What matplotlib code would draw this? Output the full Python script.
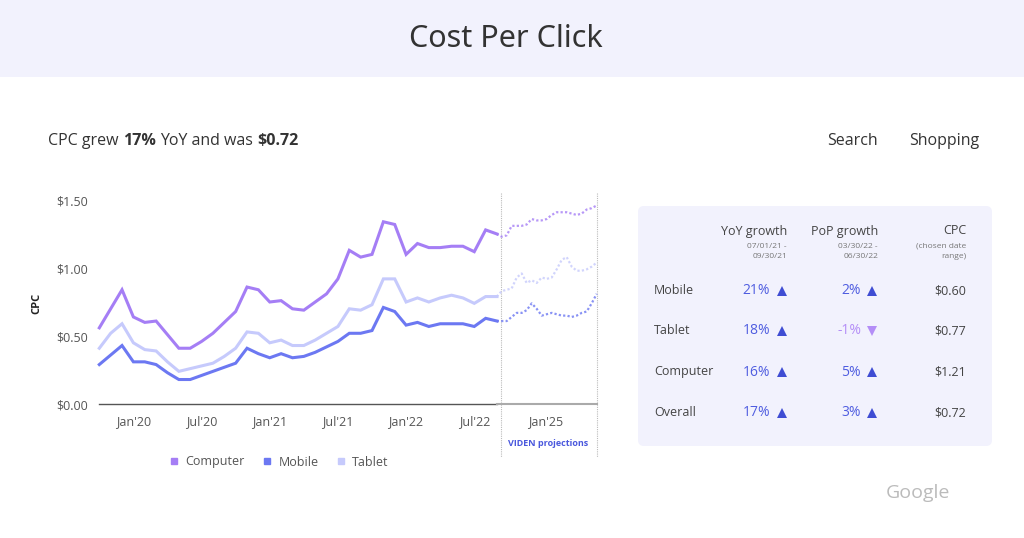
import numpy as np
import pandas as pd
import matplotlib
matplotlib.use("Agg")
import matplotlib.pyplot as plt
from matplotlib.lines import Line2D
from matplotlib.patches import Rectangle, FancyBboxPatch

plt.rcParams['font.family'] = ['Open Sans', 'DejaVu Sans']

# Monthly CPC history, Oct 2019 - Sep 2022
hist_months = pd.date_range("2019-10-01", "2022-09-01", freq="MS")
computer = [0.56, 0.70, 0.84, 0.64, 0.60, 0.61, 0.51, 0.41, 0.41, 0.46, 0.52, 0.60,
            0.68, 0.86, 0.84, 0.75, 0.76, 0.70, 0.69, 0.75, 0.81, 0.92, 1.13, 1.08,
            1.10, 1.34, 1.32, 1.10, 1.18, 1.15, 1.15, 1.16, 1.16, 1.12, 1.28, 1.25]
mobile = [0.29, 0.36, 0.43, 0.31, 0.31, 0.29, 0.23, 0.18, 0.18, 0.21, 0.24, 0.27,
          0.30, 0.41, 0.37, 0.34, 0.37, 0.34, 0.35, 0.38, 0.42, 0.46, 0.52, 0.52,
          0.54, 0.71, 0.68, 0.58, 0.60, 0.57, 0.59, 0.59, 0.59, 0.57, 0.63, 0.61]
tablet = [0.41, 0.52, 0.59, 0.45, 0.40, 0.39, 0.31, 0.24, 0.26, 0.28, 0.30, 0.35,
          0.41, 0.53, 0.52, 0.45, 0.47, 0.43, 0.43, 0.47, 0.52, 0.57, 0.70, 0.69,
          0.73, 0.92, 0.92, 0.75, 0.78, 0.75, 0.78, 0.80, 0.78, 0.74, 0.79, 0.79]

# VIDEN projections
proj_computer = [1.25, 1.23, 1.24, 1.31, 1.31, 1.31, 1.32, 1.36, 1.35, 1.35, 1.36,
                 1.39, 1.41, 1.41, 1.41, 1.40, 1.39, 1.40, 1.43, 1.44, 1.46]
proj_mobile = [0.61, 0.61, 0.61, 0.64, 0.67, 0.67, 0.69, 0.74, 0.70, 0.65, 0.66,
               0.67, 0.66, 0.65, 0.65, 0.64, 0.65, 0.67, 0.68, 0.74, 0.81]
proj_tablet = [0.79, 0.83, 0.84, 0.85, 0.93, 0.96, 0.89, 0.91, 0.89, 0.93, 0.92,
               0.93, 0.99, 1.06, 1.08, 1.01, 0.98, 0.98, 0.99, 1.01, 1.04]

tick_dates = ["2020-01", "2020-07", "2021-01", "2021-07", "2022-01", "2022-07"]
tick_labels = ["Jan'20", "Jul'20", "Jan'21", "Jul'21", "Jan'22", "Jul'22"]
proj_tick_pos = [9.7]
proj_tick_labels = ["Jan'25"]

# Summary table
row_names = ["Mobile", "Tablet", "Computer", "Overall"]
yoy_growth = [21, 18, 16, 17]
pop_growth = [2, -1, 5, 3]
cpc_values = [0.60, 0.77, 1.21, 0.72]

C_COMP = '#a57ef5'
C_MOB = '#6c78f2'
C_TAB = '#c6cafc'
BAND = '#f2f2fd'

W, H = 1024, 538
fig = plt.figure(figsize=(W / 100, H / 100), dpi=100)
fig.patch.set_facecolor('white')


def px_rect(x0, y0, x1, y1):
    return [x0 / W, 1 - y1 / H, (x1 - x0) / W, (y1 - y0) / H]


# overlay axes in pixel coordinates for the decorations
ov = fig.add_axes([0, 0, 1, 1], zorder=0)
ov.set_xlim(0, W)
ov.set_ylim(H, 0)
ov.axis('off')
ov.add_patch(Rectangle((0, 0), W, 77, color=BAND, lw=0))
ov.text(506, 39, "Cost Per Click", ha='center', va='center', fontsize=22,
        color='#333333', family=['Noto Sans', 'DejaVu Sans'], fontweight='light')

# subtitle with bold parts
renderer = fig.canvas.get_renderer()
parts = [("CPC grew", 'normal'), ("17%", 'bold'), ("YoY and was", 'normal'), ("$0.72", 'bold')]
xcur = 48
for s, wt in parts:
    t = ov.text(xcur, 141, s, ha='left', va='center', fontsize=11.5, color='#333333', fontweight=wt)
    bb = t.get_window_extent(renderer=renderer)
    xcur += bb.width + 4.5

ov.text(878, 141, "Search", ha='right', va='center', fontsize=11.5, color='#333333')
ov.text(979, 141, "Shopping", ha='right', va='center', fontsize=11.5, color='#333333')

# main chart
ax = fig.add_axes(px_rect(99.3, 200, 497, 404), zorder=2)
x = np.arange(len(hist_months))
for vals, c in [(tablet, C_TAB), (mobile, C_MOB), (computer, C_COMP)]:
    ax.plot(x, vals, color=c, lw=2.2, solid_joinstyle='miter', clip_on=False)
ax.set_xlim(0, len(hist_months) - 1)
ax.set_ylim(0, 1.5)
ax.set_yticks([0, 0.5, 1.0, 1.5])
ax.set_yticklabels(["$0.00", "$0.50", "$1.00", "$1.50"])
month_index = {d.strftime("%Y-%m"): i for i, d in enumerate(hist_months)}
ax.set_xticks([month_index[d] for d in tick_dates])
ax.set_xticklabels(tick_labels)
ax.tick_params(length=0, labelsize=9, labelcolor='#555555')
ax.tick_params(axis='y', pad=8)
ax.tick_params(axis='x', pad=8)
for s in ['top', 'right', 'left']:
    ax.spines[s].set_visible(False)
ax.spines['bottom'].set_color('#555555')
ax.spines['bottom'].set_linewidth(1)
ax.patch.set_alpha(0)
ax.set_ylabel("CPC", fontsize=8, fontweight='bold', color='#222222', labelpad=6)
ax.yaxis.set_label_coords(-(99.3 - 42) / (497 - 99.3), (404 - 303) / 204)

# projection panel
pax = fig.add_axes(px_rect(496.7, 200, 596.7, 404), zorder=2)
px = np.arange(len(proj_computer))
for vals, c in [(proj_tablet, C_TAB), (proj_mobile, C_MOB), (proj_computer, C_COMP)]:
    pax.plot(px, vals, color=c, lw=1.6, ls=(0, (1, 1)), alpha=0.8, clip_on=False)
pax.set_xlim(0, len(proj_computer) - 1)
pax.set_ylim(0, 1.5)
pax.set_yticks([])
pax.set_xticks(proj_tick_pos)
pax.set_xticklabels(proj_tick_labels)
pax.tick_params(length=0, labelsize=9, labelcolor='#555555', pad=8)
for s in ['top', 'right', 'left']:
    pax.spines[s].set_visible(False)
pax.spines['bottom'].set_color('#aaaaaa')
pax.spines['bottom'].set_linewidth(1.5)
pax.patch.set_alpha(0)

for xv in [500.7, 596.7]:
    ov.add_line(Line2D([xv, xv], [193, 457], color='#bbbbbb', lw=0.8, ls=(0, (1, 1)), zorder=3))
ov.text(548, 444, "VIDEN projections", ha='center', va='center', fontsize=6.5,
        color='#4a58dd', fontweight='bold')

# legend
handles = [Line2D([], [], color=c, marker='s', ls='none', markersize=4.5)
           for c in [C_COMP, C_MOB, C_TAB]]
fig.legend(handles, ["Computer", "Mobile", "Tablet"], loc='center',
           bbox_to_anchor=(279 / W, 1 - 462 / H), ncol=3, frameon=False,
           fontsize=9, labelcolor='#555555', handlelength=0.8, handletextpad=0.5,
           columnspacing=1.4)

# summary table panel
ov.add_patch(FancyBboxPatch((638, 206), 354, 240, boxstyle="round,pad=0,rounding_size=6",
                            fc=BAND, ec='none'))
hdr_c = '#444444'
sub_c = '#777777'
ov.text(787, 231, "YoY growth", ha='right', va='center', fontsize=9, color=hdr_c)
ov.text(787, 246, "07/01/21 -", ha='right', va='center', fontsize=6, color=sub_c)
ov.text(787, 257, "09/30/21", ha='right', va='center', fontsize=6, color=sub_c)
ov.text(878, 231, "PoP growth", ha='right', va='center', fontsize=9, color=hdr_c)
ov.text(878, 246, "03/30/22 -", ha='right', va='center', fontsize=6, color=sub_c)
ov.text(878, 257, "06/30/22", ha='right', va='center', fontsize=6, color=sub_c)
ov.text(966, 231, "CPC", ha='right', va='center', fontsize=9, color=hdr_c)
ov.text(966, 246, "(chosen date", ha='right', va='center', fontsize=6, color=sub_c)
ov.text(966, 257, "range)", ha='right', va='center', fontsize=6, color=sub_c)

row_y = [291, 331, 372, 413]
up_c = '#3f4dd3'
val_c = '#4f5de0'
down_c = '#b48ef7'
for name, yy, yv, pv, cv in zip(row_names, row_y, yoy_growth, pop_growth, cpc_values):
    ov.text(654, yy, name, ha='left', va='center', fontsize=9, color=hdr_c)
    ov.text(770, yy, f"{yv}%", ha='right', va='center', fontsize=10,
            color=val_c if yv >= 0 else down_c)
    ov.plot(782, yy, marker='^' if yv >= 0 else 'v', ms=7.5, mew=0,
            color=up_c if yv >= 0 else down_c)
    ov.text(861, yy, f"{pv}%", ha='right', va='center', fontsize=10,
            color=val_c if pv >= 0 else down_c)
    ov.plot(872, yy, marker='^' if pv >= 0 else 'v', ms=7.5, mew=0,
            color=up_c if pv >= 0 else down_c)
    ov.text(966, yy, f"${cv:.2f}", ha='right', va='center', fontsize=9, color=hdr_c)

ov.text(918, 493, "Google", ha='center', va='center', fontsize=14, color='#bbbbbb')

fig.savefig("out.png", dpi=100)
